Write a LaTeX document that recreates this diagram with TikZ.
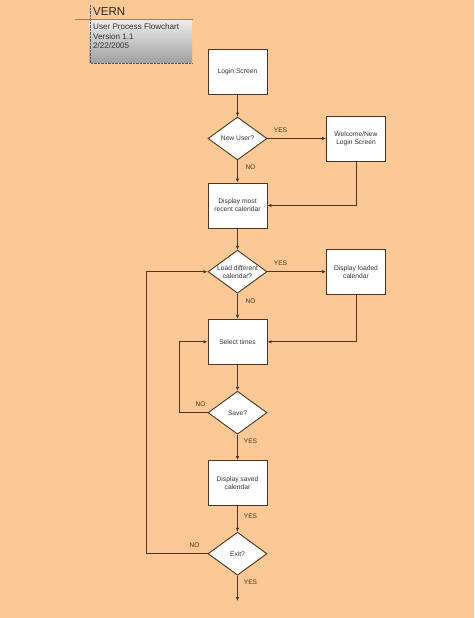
\documentclass[tikz,border=0pt]{standalone}
\usepackage{xcolor}
\usepackage{fontspec}
\setmainfont{Liberation Sans}
\usetikzlibrary{shapes.geometric,arrows.meta,calc}
\definecolor{peach}{RGB}{252,200,150}
\definecolor{linebrown}{RGB}{78,52,30}
\definecolor{textgray}{RGB}{50,50,50}
\begin{document}
\begin{tikzpicture}[x=1pt,y=-1pt,
  box/.style={draw=linebrown, fill=white, line width=0.9pt, minimum width=59pt, minimum height=45pt, inner sep=1pt, align=center, font=\fontsize{6.7}{8}\selectfont, text=textgray},
  choice/.style={diamond, draw=linebrown, fill=white, line width=0.9pt, minimum width=59pt, minimum height=43pt, inner sep=0pt, aspect=1.37, align=center, font=\fontsize{6.7}{8}\selectfont, text=textgray},
  flow/.style={draw=linebrown, line width=0.8pt, -{Latex[length=4pt,width=3.5pt]}},
  tag/.style={font=\fontsize{6.6}{7.5}\selectfont, text=linebrown}]
\useasboundingbox (0,0) rectangle (474,618);
\fill[peach] (0,0) rectangle (474,618);

%title block
\shade[top color=gray!15, bottom color=gray!75] (89,20) rectangle (192,63);
\draw[gray!70!black, densely dotted] (90,5) -- (90,63) -- (192,63);
\draw[gray!60!brown, line width=0.8pt] (75,19) -- (193,19);
\node[anchor=base west, inner sep=0pt, font=\fontsize{11.5}{12}\selectfont, text=black!85] (vern) at (93,16) {VERN};
\node[anchor=north west, inner sep=0pt, align=left, font=\fontsize{8.1}{9.5}\selectfont, text=black!80] (info) at (93,23.5) {User Process Flowchart\\Version 1.1\\2/22/2005};

%main column
\node[box] (login) at (237.5,71.5) {Login Screen};
\node[choice] (newuser) at (237.5,138.5) {New User?};
\node[box] (welcome) at (356,138.5) {Welcome/New\\Login Screen};
\node[box] (recent) at (237.5,205.5) {Display most\\recent calendar};
\node[choice] (load) at (237.5,271.7) {Load different\\calendar?};
\node[box] (loaded) at (356,271.7) {Display loaded\\calendar};
\node[box] (select) at (237.5,341.8) {Select times};
\node[choice] (save) at (237.5,412.7) {Save?};
\node[box] (saved) at (237.5,483) {Display saved\\calendar};
\node[choice] (quit) at (237.5,553.7) {Exit?};
\coordinate (finish) at (237.5,601);
\coordinate (saveloop) at (179.3,412.7);
\coordinate (quitloop) at (146.7,553.7);

%connectors
\draw[flow] (login) -- (newuser);
\draw[flow] (newuser) -- (welcome);
\draw[flow] (newuser) -- (recent);
\draw[flow] (welcome.south) |- (recent.east);
\draw[flow] (recent) -- (load);
\draw[flow] (load) -- (loaded);
\draw[flow] (load) -- (select);
\draw[flow] (loaded.south) |- (select.east);
\draw[flow] (select) -- (save);
\draw[flow] (save.west) -- (saveloop) |- (select.west);
\draw[flow] (save) -- (saved);
\draw[flow] (saved) -- (quit);
\draw[flow] (quit.west) -- (quitloop) |- (load.west);
\draw[flow] (quit) -- (finish);

%yes / no tags
\node[tag] (tyes1) at (280.5,130.5) {YES};
\node[tag] (tno1) at (250.5,167.5) {NO};
\node[tag] (tyes2) at (280.5,263.5) {YES};
\node[tag] (tno2) at (250.5,301) {NO};
\node[tag] (tno3) at (200.5,404.5) {NO};
\node[tag] (tyes3) at (250.5,441.5) {YES};
\node[tag] (tyes4) at (250.5,516) {YES};
\node[tag] (tno4) at (194.5,545.5) {NO};
\node[tag] (tyes5) at (250.5,582.5) {YES};
\end{tikzpicture}
\end{document}
